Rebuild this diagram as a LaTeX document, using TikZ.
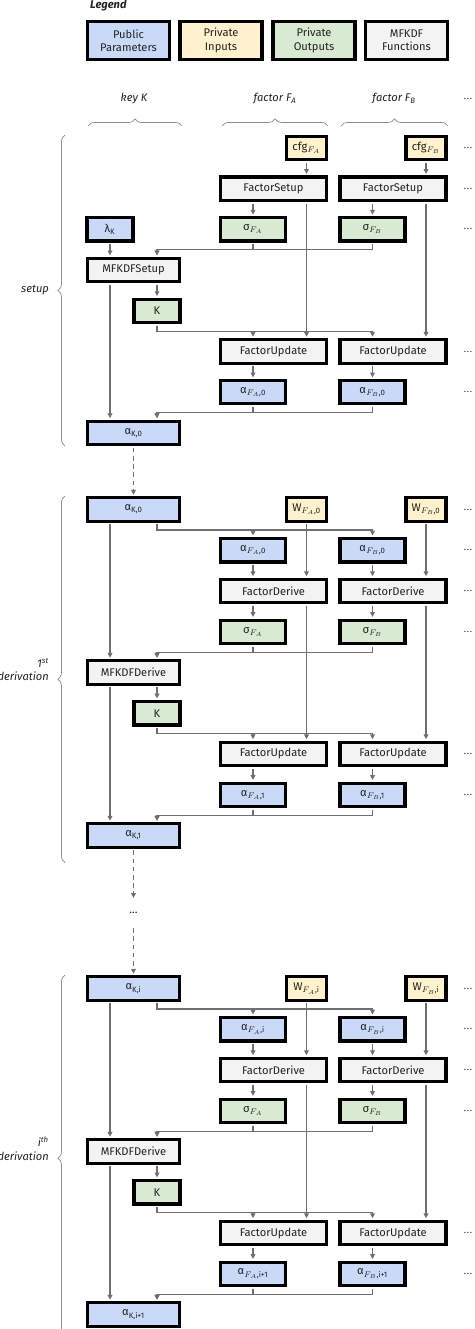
\documentclass[tikz,border=0pt]{standalone}
\usepackage{fontspec}
\setmainfont{Fira Sans}
\usetikzlibrary{arrows.meta, calc, decorations.pathreplacing}
\definecolor{pubblue}{HTML}{C9DAF8}
\definecolor{privyel}{HTML}{FFF2CC}
\definecolor{privgrn}{HTML}{D9EAD3}
\definecolor{fungray}{HTML}{F3F3F3}
\definecolor{wire}{HTML}{6F6F6F}
\definecolor{bracegray}{HTML}{8C8C8C}
\definecolor{ink}{HTML}{222222}

\begin{document}
\begin{tikzpicture}[x=0.03cm, y=-0.03cm,
  font=\fontsize{9.5}{11.5}\selectfont, text=ink,
  box/.style={draw=black, line width=2.7pt, inner sep=0pt, minimum height=0.7cm},
  pubbox/.style={box, fill=pubblue},
  inbox/.style={box, fill=privyel},
  outbox/.style={box, fill=privgrn},
  funbox/.style={box, fill=fungray},
  wkey/.style={minimum width=2.76cm},
  hkey/.style={minimum width=1.38cm},
  wfac/.style={minimum width=3.18cm},
  sfac/.style={minimum width=1.95cm},
  tfac/.style={minimum width=1.2cm},
  arr/.style={draw=wire, line width=0.9pt, shorten <=1.35pt, shorten >=1.35pt,
    -{Triangle[length=4pt, width=4pt]}},
  merge/.style={to path={|- ($(\tikztotarget)+(0,-7)$) -- (\tikztotarget)}},
  brc/.style={draw=bracegray, line width=0.6pt, decorate,
    decoration={brace, amplitude=6pt}},
  ellip/.style={font=\footnotesize, inner sep=1pt},
  blocklbl/.style={anchor=east, align=right,
    font=\fontsize{9.5}{11.5}\selectfont\itshape},
]
\useasboundingbox (0,0) rectangle (474,1329);

% --- Legend ---
\node[anchor=west, font=\fontsize{9.5}{11.5}\selectfont\bfseries\itshape] (legend) at (86,6) {Legend};
\node[pubbox, minimum width=2.46cm, minimum height=1.14cm, align=center] (lgpub) at (128.5,40.5) {Public\\Parameters};
\node[inbox, minimum width=2.46cm, minimum height=1.14cm, align=center] (lgin) at (221,40.5) {Private\\Inputs};
\node[outbox, minimum width=2.46cm, minimum height=1.14cm, align=center] (lgout) at (314,40.5) {Private\\Outputs};
\node[funbox, minimum width=2.46cm, minimum height=1.14cm, align=center] (lgfun) at (406.5,40.5) {MFKDF\\Functions};

% --- Column headers ---
\node[font=\fontsize{9.5}{11.5}\selectfont\itshape] (hkey) at (134,99) {key K};
\node[font=\fontsize{9.5}{11.5}\selectfont\itshape] (hfa) at (275,99) {factor F\textsubscript{A}};
\node[font=\fontsize{9.5}{11.5}\selectfont\itshape] (hfb) at (394,99) {factor F\textsubscript{B}};
\node[ellip] (hmore) at (468,99) {.\kern.6pt.\kern.6pt.};
\draw[brc] (88,126) -- (182,126);
\draw[brc] (222,126) -- (328,126);
\draw[brc] (341,126) -- (448,126);

% --- Setup (rows at 148 + k*40.7) ---
\foreach \f/\dx in {A/0, B/119.5} {
  \node[inbox, tfac] (s-cfg\f) at ({306.5+\dx},148) {cfg\textsubscript{$F_\f$}};
  \node[funbox, wfac] (s-set\f) at ({273.5+\dx},188.7) {FactorSetup};
  \node[outbox, sfac] (s-sig\f) at ({253+\dx},229.4) {σ\textsubscript{$F_\f$}};
  \node[funbox, wfac] (s-upd\f) at ({273.5+\dx},351.5) {FactorUpdate};
  \node[pubbox, sfac] (s-al\f) at ({253+\dx},392.2) {α\textsubscript{$F_\f$,0}};
}
\node[pubbox, hkey] (s-lam) at (110,229.4) {λ\textsubscript{K}};
\node[funbox, wkey] (s-mfkdf) at (133.5,270.1) {MFKDFSetup};
\node[outbox, hkey] (s-K) at (157,310.8) {K};
\node[pubbox, wkey] (s-ak) at (133.5,432.9) {α\textsubscript{K,0}};
\foreach \k in {0,1,2,5,6}
  \node[ellip] (s-more\k) at (468,{148+\k*40.7}) {.\kern.6pt.\kern.6pt.};

\draw[arr] (s-lam.south) -- (s-lam.south |- s-mfkdf.north);
\draw[arr] (s-lam.south |- s-mfkdf.south) -- (s-lam.south |- s-ak.north);
\draw[arr] (s-K.north |- s-mfkdf.south) -- (s-K.north);
\foreach \f in {A,B} {
  \draw[arr] (s-cfg\f.south) -- (s-cfg\f.south |- s-set\f.north);
  \draw[arr] (s-sig\f.north |- s-set\f.south) -- (s-sig\f.north);
  \draw[arr] (s-cfg\f.south |- s-set\f.south) -- (s-cfg\f.south |- s-upd\f.north);
  \draw[arr] (s-sig\f.south) to[merge] (s-K.north |- s-mfkdf.north);
  \draw[arr] (s-K.south) to[merge] (s-al\f.north |- s-upd\f.north);
  \draw[arr] (s-al\f.north |- s-upd\f.south) -- (s-al\f.north);
  \draw[arr] (s-al\f.south) to[merge] (s-K.south |- s-ak.north);
}
\draw[brc] (65,446) -- (65,135);
\node[blocklbl] (s-lbl) at (53,290.5) {setup};

% --- Derivations (rows at t + k*40.75) ---
\foreach \b/\t/\i/\j/\ord in {d1/509.5/0/1/{1\textsuperscript{st}}, di/988.5/i/i+1/{i\textsuperscript{th}}} {
  \node[pubbox, wkey] (\b-akin) at (133.5,\t) {α\textsubscript{K,\i}};
  \node[funbox, wkey] (\b-mfkdf) at (133.5,{\t+4*40.75}) {MFKDFDerive};
  \node[outbox, hkey] (\b-K) at (157,{\t+5*40.75}) {K};
  \node[pubbox, wkey] (\b-akout) at (133.5,{\t+8*40.75}) {α\textsubscript{K,\j}};
  \foreach \f/\dx in {A/0, B/119.5} {
    \node[inbox, tfac] (\b-W\f) at ({306.5+\dx},\t) {W\textsubscript{$F_\f$,\i}};
    \node[pubbox, sfac] (\b-al\f) at ({253+\dx},{\t+40.75}) {α\textsubscript{$F_\f$,\i}};
    \node[funbox, wfac] (\b-der\f) at ({273.5+\dx},{\t+2*40.75}) {FactorDerive};
    \node[outbox, sfac] (\b-sig\f) at ({253+\dx},{\t+3*40.75}) {σ\textsubscript{$F_\f$}};
    \node[funbox, wfac] (\b-upd\f) at ({273.5+\dx},{\t+6*40.75}) {FactorUpdate};
    \node[pubbox, sfac] (\b-ao\f) at ({253+\dx},{\t+7*40.75}) {α\textsubscript{$F_\f$,\j}};
  }
  \foreach \k in {0,1,2,3,6,7}
    \node[ellip] (\b-more\k) at (468,{\t+\k*40.75}) {.\kern.6pt.\kern.6pt.};

  \draw[arr] ([xshift=-0.705cm]\b-akin.south) -- ([xshift=-0.705cm]\b-mfkdf.north);
  \draw[arr] (\b-K.north |- \b-mfkdf.south) -- (\b-K.north);
  \draw[arr] ([xshift=-0.705cm]\b-mfkdf.south) -- ([xshift=-0.705cm]\b-akout.north);
  \foreach \f in {A,B} {
    \draw[arr] (\b-K.north |- \b-akin.south) to[merge] (\b-al\f.north);
    \draw[arr] (\b-al\f.south) -- (\b-al\f.south |- \b-der\f.north);
    \draw[arr] (\b-W\f.south) -- (\b-W\f.south |- \b-der\f.north);
    \draw[arr] (\b-sig\f.north |- \b-der\f.south) -- (\b-sig\f.north);
    \draw[arr] (\b-W\f.south |- \b-der\f.south) -- (\b-W\f.south |- \b-upd\f.north);
    \draw[arr] (\b-sig\f.south) to[merge] (\b-K.north |- \b-mfkdf.north);
    \draw[arr] (\b-K.south) to[merge] (\b-ao\f.north |- \b-upd\f.north);
    \draw[arr] (\b-ao\f.north |- \b-upd\f.south) -- (\b-ao\f.north);
    \draw[arr] (\b-ao\f.south) to[merge] (\b-K.south |- \b-akout.north);
  }
  \draw[brc] (65,{\t+339.5+13.5}) -- (65,{\t-13.5});
  \node[blocklbl] (\b-lbl) at (53,{\t+160}) {\ord\\derivation};
}

% --- Links between the blocks ---
\node[minimum height=0.8cm] (gap) at (133.5,913) {...};
\draw[arr, dashed, dash pattern=on 4pt off 3pt] (s-ak.south) -- (d1-akin.north);
\draw[arr, dashed, dash pattern=on 4pt off 3pt] (d1-akout.south) -- (gap.north);
\draw[arr, dashed, dash pattern=on 4pt off 3pt] (gap.south) -- (di-akin.north);

\end{tikzpicture}
\end{document}
